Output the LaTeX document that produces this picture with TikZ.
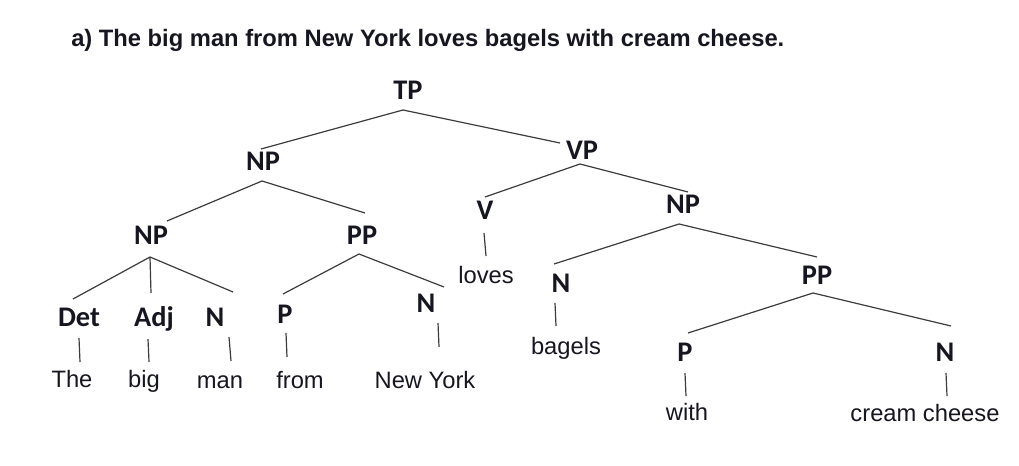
\documentclass[tikz,border=0pt]{standalone}
\usepackage{fontspec}
\newfontfamily\wordfont{Liberation Sans}
\newfontfamily\labfont{Carlito}
\definecolor{ink}{RGB}{22,22,32}
\definecolor{linec}{RGB}{60,60,60}
\begin{document}
\begin{tikzpicture}[x=0.75pt,y=-0.75pt,
  lab/.style={anchor=base,inner sep=0pt,text=ink,font=\labfont\bfseries\fontsize{21.3}{24}\selectfont},
  word/.style={anchor=base,inner sep=0pt,text=ink,font=\wordfont\fontsize{17.8}{20}\selectfont},
  edge/.style={draw=linec,line width=0.9pt}]
\fill[white] (0,0) rectangle (1019,466);
\useasboundingbox (0,0) rectangle (1019,466);
\node[anchor=base west,inner sep=0pt,text=ink,font=\wordfont\bfseries\fontsize{17.8}{20}\selectfont] (title) at (71,47) {a) The big man from New York loves bagels with cream cheese.};
% labels
\node[lab] (TP) at (408,100) {TP};
\node[lab] (NP1) at (263,171) {NP};
\node[lab] (VP) at (582,160) {VP};
\node[lab] (NP2) at (151,245) {NP};
\node[lab] (PP1) at (362,245) {PP};
\node[lab] (V) at (485,220) {V};
\node[lab] (NP3) at (683,214) {NP};
\node[lab] (Det) at (79,326) {Det};
\node[lab] (Adj) at (154,326) {Adj};
\node[lab] (N1) at (215,326) {N};
\node[lab] (P1) at (285,323) {P};
\node[lab] (N2) at (426,312) {N};
\node[lab] (N3) at (561,292) {N};
\node[lab] (PP2) at (817,284) {PP};
\node[lab] (P2) at (685,361) {P};
\node[lab] (N4) at (945,361) {N};
% words
\node[word] (The) at (72,387) {The};
\node[word] (big) at (144,387) {big};
\node[word] (man) at (220,388) {man};
\node[word] (from) at (300,388) {from};
\node[word] (NY) at (425,388) {New York};
\node[word] (loves) at (486,283) {loves};
\node[word] (bagels) at (566,354) {bagels};
\node[word] (with) at (687,420) {with};
\node[word] (cream) at (925,421) {cream cheese};
% branches
\draw[edge] ([shift={(-5,10)}]TP.base) -- ([shift={(-2,-22)}]NP1.base);
\draw[edge] ([shift={(-5,10)}]TP.base) -- ([shift={(-22,-17)}]VP.base);
\draw[edge] ([shift={(-1,10)}]NP1.base) -- ([shift={(16,-24)}]NP2.base);
\draw[edge] ([shift={(-1,10)}]NP1.base) -- ([shift={(3,-32)}]PP1.base);
\draw[edge] ([shift={(-1,12)}]NP2.base) -- ([shift={(-6,-27)}]Det.base);
\draw[edge] ([shift={(-1,12)}]NP2.base) -- ([shift={(-3,-33)}]Adj.base);
\draw[edge] ([shift={(-1,12)}]NP2.base) -- ([shift={(18,-34)}]N1.base);
\draw[edge] ([shift={(-3,9)}]PP1.base) -- ([shift={(-2,-29)}]P1.base);
\draw[edge] ([shift={(-3,9)}]PP1.base) -- ([shift={(18,-25)}]N2.base);
\draw[edge] ([shift={(-2,4)}]VP.base) -- ([shift={(0,-23)}]V.base);
\draw[edge] ([shift={(-2,4)}]VP.base) -- ([shift={(5,-22)}]NP3.base);
\draw[edge] ([shift={(-4,10)}]NP3.base) -- ([shift={(-7,-28)}]N3.base);
\draw[edge] ([shift={(-4,10)}]NP3.base) -- ([shift={(0,-27)}]PP2.base);
\draw[edge] ([shift={(-4,9)}]PP2.base) -- ([shift={(3,-28)}]P2.base);
\draw[edge] ([shift={(-4,9)}]PP2.base) -- ([shift={(6,-35)}]N4.base);
% terminal ticks
\draw[edge] ([shift={(0,12)}]Det.base) -- ([shift={(8,-25)}]The.base);
\draw[edge] ([shift={(-6,13)}]Adj.base) -- ([shift={(5,-25)}]big.base);
\draw[edge] ([shift={(14,11)}]N1.base) -- ([shift={(11,-27)}]man.base);
\draw[edge] ([shift={(1,10)}]P1.base) -- ([shift={(-13,-31)}]from.base);
\draw[edge] ([shift={(12,11)}]N2.base) -- ([shift={(14,-41)}]NY.base);
\draw[edge] ([shift={(-1,13)}]V.base) -- ([shift={(0,-27)}]loves.base);
\draw[edge] ([shift={(-6,11)}]N3.base) -- ([shift={(-10,-28)}]bagels.base);
\draw[edge] ([shift={(0,12)}]P2.base) -- ([shift={(-1,-24)}]with.base);
\draw[edge] ([shift={(1,12)}]N4.base) -- ([shift={(22,-25)}]cream.base);
\end{tikzpicture}
\end{document}
